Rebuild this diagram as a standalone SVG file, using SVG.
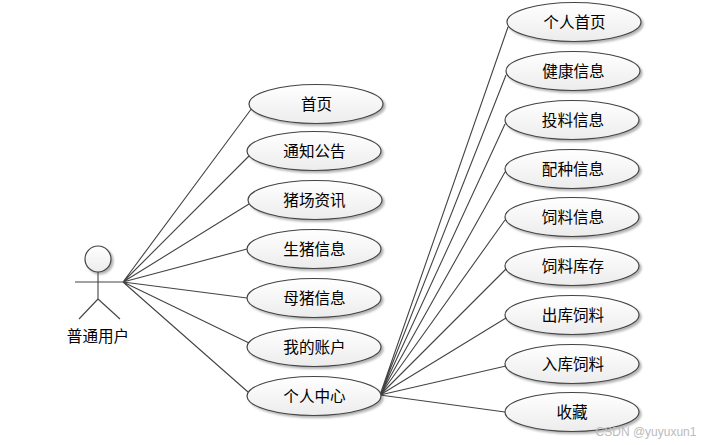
<svg xmlns="http://www.w3.org/2000/svg" width="709" height="445" viewBox="0 0 709 445">
<style>
text{font-family:"Noto Sans CJK SC","Liberation Sans",sans-serif;font-size:15.6px;fill:#000;text-anchor:middle}
.u{fill:url(#g);stroke:#444;stroke-width:1.2;filter:url(#s)}
.l{fill:none;stroke:#444;stroke-width:1.1}
</style>
<defs>
<linearGradient id="g" x1="0" y1="0" x2="0" y2="1"><stop offset="0" stop-color="#ffffff"/><stop offset="1" stop-color="#ececec"/></linearGradient>
<filter id="s" x="-10%" y="-20%" width="125%" height="150%"><feDropShadow dx="2" dy="2" stdDeviation="1.2" flood-color="#000" flood-opacity="0.3"/></filter>
<ellipse id="e" rx="67" ry="19.5" class="u"/>
</defs>
<rect width="709" height="445" fill="#fff"/>
<g id="connectors" class="l">
<path d="M123 282L252 108M123 282L250 155M123 282L249 204M123 282L247 249M123 282L247 298M123 282L249 343M123 282L248 392"/>
<path d="M380 395L508 27M380 395L506 75M380 395L505 124M380 395L505 172M380 395L505 220M380 395L506 269M380 395L506 318M380 395L506 366M380 395L505 412"/>
</g>
<g id="actor">
<circle cx="98" cy="259" r="13" class="u"/>
<path class="l" d="M98 272V299M75 282H123M98 299L79 319M98 299L120 319"/>
<text x="98" y="342">普通用户</text>
</g>
<g id="n1"><use href="#e" x="316" y="104"/><text x="316.500" y="109.500">首页</text></g>
<g id="n2"><use href="#e" x="314" y="151"/><text x="314.500" y="156.500">通知公告</text></g>
<g id="n3"><use href="#e" x="315" y="200"/><text x="314.500" y="205.500">猪场资讯</text></g>
<g id="n4"><use href="#e" x="314" y="249"/><text x="314.500" y="254.500">生猪信息</text></g>
<g id="n5"><use href="#e" x="314" y="298"/><text x="314.500" y="303.500">母猪信息</text></g>
<g id="n6"><use href="#e" x="314" y="347"/><text x="314.500" y="352.500">我的账户</text></g>
<g id="n7"><use href="#e" x="314" y="396"/><text x="314.500" y="401.500">个人中心</text></g>
<g id="m1"><use href="#e" x="574" y="22"/><text x="574.500" y="27.500">个人首页</text></g>
<g id="m2"><use href="#e" x="573" y="71"/><text x="573.500" y="76.500">健康信息</text></g>
<g id="m3"><use href="#e" x="572" y="120"/><text x="573" y="125.500">投料信息</text></g>
<g id="m4"><use href="#e" x="572" y="169"/><text x="573" y="174.500">配种信息</text></g>
<g id="m5"><use href="#e" x="572" y="217"/><text x="573" y="222.500">饲料信息</text></g>
<g id="m6"><use href="#e" x="572" y="266"/><text x="573" y="271.500">饲料库存</text></g>
<g id="m7"><use href="#e" x="572" y="315"/><text x="573" y="320.500">出库饲料</text></g>
<g id="m8"><use href="#e" x="572" y="364"/><text x="573" y="369.500">入库饲料</text></g>
<g id="m9"><use href="#e" x="572" y="412"/><text x="572" y="417.500">收藏</text></g>
<text x="646" y="436" style="font-family:'Liberation Sans',sans-serif;font-size:12px;fill:#bbb">CSDN @yuyuxun1</text>
</svg>
